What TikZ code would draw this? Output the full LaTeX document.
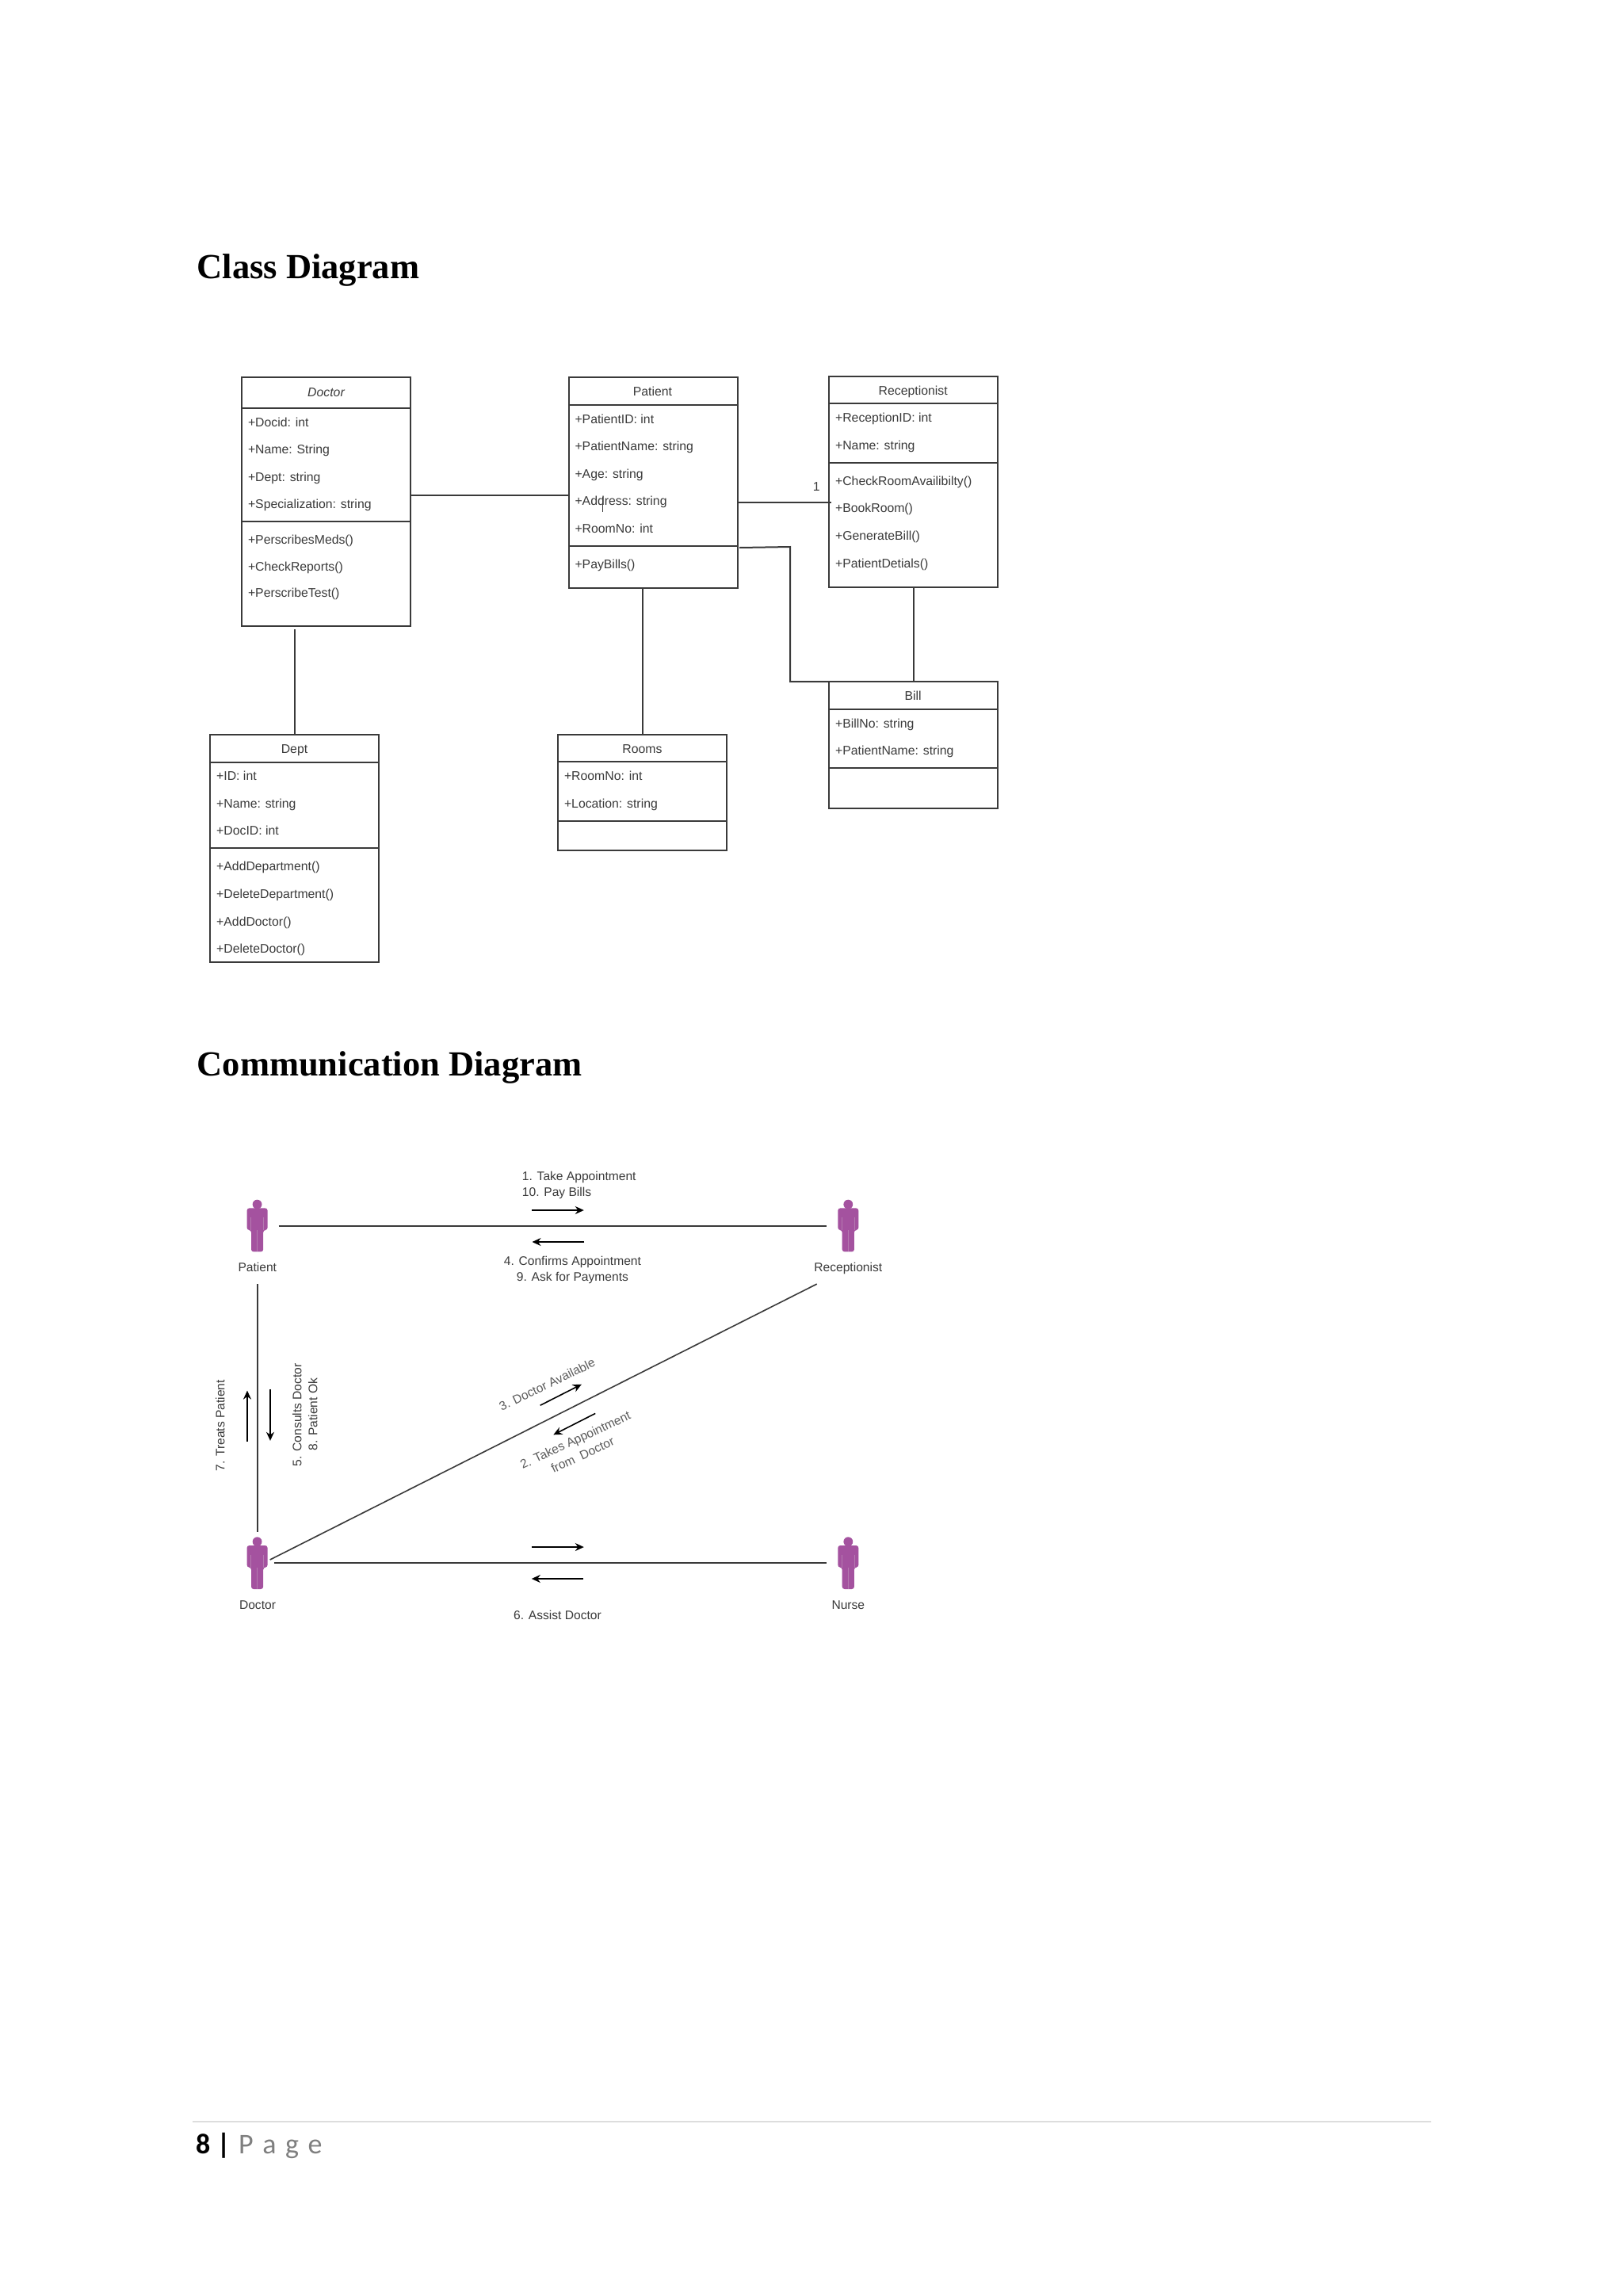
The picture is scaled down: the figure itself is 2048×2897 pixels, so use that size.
\documentclass[tikz,border=0pt]{standalone}
\usepackage{fontspec}
\setmainfont{Liberation Sans}
\newfontfamily\headfont{Liberation Serif}
\newfontfamily\footfont{Carlito}
\usetikzlibrary{arrows.meta}
\definecolor{ink}{HTML}{3A3A3A}
\definecolor{txt}{HTML}{3A3A3A}
\definecolor{dim}{HTML}{5C5C5C}
\definecolor{actorfill}{HTML}{A4529F}
\definecolor{actorlight}{HTML}{B47AB0}
\definecolor{pagegray}{HTML}{7F7F7F}
\definecolor{rulegray}{HTML}{DDDDDD}
\tikzset{
  classbox/.style={draw=ink,line width=2pt,fill=white,anchor=north west,inner sep=0pt,outer sep=0pt},
  sepline/.style={draw=ink,line width=2pt},
  assoc/.style={draw=ink,line width=2pt},
  msgline/.style={draw=ink,line width=2pt},
  thinline/.style={draw=ink,line width=1.6pt},
  flow/.style={draw=black,line width=1.6pt,-{Stealth[length=11pt,width=10pt]}},
  lab/.style={inner sep=0pt,text height=11.3pt,text depth=0pt,text=txt,font=\fontsize{15.8}{18}\selectfont},
  attr/.style={lab,anchor=west},
  title/.style={lab,anchor=center},
  msg/.style={lab,font=\fontsize{15.6}{18}\selectfont},
  slant/.style={msg,text=dim,anchor=center},
  heading/.style={inner sep=0pt,anchor=base west,font=\headfont\bfseries\fontsize{44.5}{50}\selectfont},
  pics/umlactor/.style={code={
    \fill[actorfill] (0,5.6) circle (5.9pt);
    \fill[actorfill,rounded corners=3pt] (-13,10.4) -- (13,10.4) -- (13,38) -- (7.6,38) -- (7.6,65.4) -- (-7.6,65.4) -- (-7.6,38) -- (-13,38) -- cycle;
    \draw[actorlight,line width=.6pt] (-8,22) -- (-8,38) (8,22) -- (8,38) (0,38) -- (0,65);
  }}
}
\begin{document}
\begin{tikzpicture}[x=1pt,y=-1pt]
\useasboundingbox (0,0) rectangle (2048,2897);
\fill[white] (0,0) rectangle (2048,2897);

\node[heading] (h1) at (248.5,351.7) {Class Diagram};
\node[heading] (h2) at (248.5,1357.7) {Communication Diagram};

% ---- class boxes
\node[classbox,minimum width=213pt,minimum height=314pt] (doctor) at (305,476) {};
\draw[sepline] (doctor.west |- 0,515) -- (doctor.east |- 0,515);
\draw[sepline] (doctor.west |- 0,658) -- (doctor.east |- 0,658);
\node[title,font=\itshape\fontsize{15.8}{18}\selectfont] (dt) at (411.5,494.5) {Doctor};
\node[attr] (d1) at (312.8,532.8) {+Docid: int};
\node[attr] (d2) at (312.8,567.3) {+Name: String};
\node[attr] (d3) at (312.8,601.8) {+Dept: string};
\node[attr] (d4) at (312.8,636.3) {+Specialization: string};
\node[attr] (d5) at (312.8,681) {+PerscribesMeds()};
\node[attr] (d6) at (312.8,714.6) {+CheckReports()};
\node[attr] (d7) at (312.8,748) {+PerscribeTest()};

\node[classbox,minimum width=213pt,minimum height=266pt] (patient) at (717.5,476) {};
\draw[sepline] (patient.west |- 0,511) -- (patient.east |- 0,511);
\draw[sepline] (patient.west |- 0,689) -- (patient.east |- 0,689);
\node[title] (pt) at (823.5,494) {Patient};
\node[attr] (p1) at (725.3,528.6) {+PatientID: int};
\node[attr] (p2) at (725.3,563.3) {+PatientName: string};
\node[attr] (p3) at (725.3,598) {+Age: string};
\node[attr] (p4) at (725.3,632.3) {+Address: string};
\node[attr] (p5) at (725.3,666.6) {+RoomNo: int};
\node[attr] (p6) at (725.3,712.2) {+PayBills()};
\coordinate (cursorA) at (760.5,627.3);
\coordinate (cursorB) at (760.5,645.7);
\draw[ink,line width=1pt] (cursorA) -- (cursorB);

\node[classbox,minimum width=213pt,minimum height=266pt] (recept) at (1046,475) {};
\draw[sepline] (recept.west |- 0,509) -- (recept.east |- 0,509);
\draw[sepline] (recept.west |- 0,584) -- (recept.east |- 0,584);
\node[title] (rt) at (1152.2,492.7) {Receptionist};
\node[attr] (r1) at (1053.9,527) {+ReceptionID: int};
\node[attr] (r2) at (1053.9,561.6) {+Name: string};
\node[attr] (r3) at (1053.9,607) {+CheckRoomAvailibilty()};
\node[attr] (r4) at (1053.9,641.3) {+BookRoom()};
\node[attr] (r5) at (1053.9,676) {+GenerateBill()};
\node[attr] (r6) at (1053.9,710.6) {+PatientDetials()};

\node[classbox,minimum width=213pt,minimum height=287pt] (dept) at (265,927) {};
\draw[sepline] (dept.west |- 0,962) -- (dept.east |- 0,962);
\draw[sepline] (dept.west |- 0,1070) -- (dept.east |- 0,1070);
\node[title] (dpt) at (371.5,944.7) {Dept};
\node[attr] (t1) at (273,979) {+ID: int};
\node[attr] (t2) at (273,1013.6) {+Name: string};
\node[attr] (t3) at (273,1048.3) {+DocID: int};
\node[attr] (t4) at (273,1093.2) {+AddDepartment()};
\node[attr] (t5) at (273,1127.9) {+DeleteDepartment()};
\node[attr] (t6) at (273,1162.6) {+AddDoctor()};
\node[attr] (t7) at (273,1197.2) {+DeleteDoctor()};

\node[classbox,minimum width=213pt,minimum height=146pt] (rooms) at (704,927) {};
\draw[sepline] (rooms.west |- 0,961) -- (rooms.east |- 0,961);
\draw[sepline] (rooms.west |- 0,1036) -- (rooms.east |- 0,1036);
\node[title] (rmt) at (810.4,944.5) {Rooms};
\node[attr] (m1) at (711.8,979) {+RoomNo: int};
\node[attr] (m2) at (711.8,1013.5) {+Location: string};

\node[classbox,minimum width=213pt,minimum height=160pt] (bill) at (1046,860) {};
\draw[sepline] (bill.west |- 0,895) -- (bill.east |- 0,895);
\draw[sepline] (bill.west |- 0,969) -- (bill.east |- 0,969);
\node[title] (bt) at (1152.2,878) {Bill};
\node[attr] (b1) at (1053.9,912.7) {+BillNo: string};
\node[attr] (b2) at (1053.9,947.3) {+PatientName: string};

% ---- class connectors
\draw[assoc] (doctor.east |- 0,625) -- (patient.west |- 0,625);
\coordinate (deptEnd) at (372,794);
\draw[assoc] (deptEnd) -- (deptEnd |- dept.north);
\coordinate (roomsTop) at (811,927);
\draw[assoc] (roomsTop |- patient.south) -- (roomsTop);
\coordinate (receptEnd) at (1049.4,634);
\draw[assoc] (patient.east |- receptEnd) -- (receptEnd);
\node[lab,anchor=center] (one) at (1030.2,613.9) {1};
\coordinate (billStart) at (933,691);
\coordinate (billBend) at (997,690);
\draw[assoc] (billStart) -- (billBend) -- (billBend |- bill.north) -- (bill.north west);
\draw[assoc] (recept.south) -- (bill.north);

% ---- communication actors
\pic (aPatient) at (324.6,1514) {umlactor};
\pic (aRecept) at (1070.3,1514) {umlactor};
\pic (aDoctor) at (324.6,1939.6) {umlactor};
\pic (aNurse) at (1070.3,1939.6) {umlactor};
\node[msg,anchor=center] (lPatient) at (324.8,1599) {Patient};
\node[msg,anchor=center] (lRecept) at (1070.3,1599) {Receptionist};
\node[msg,anchor=center] (lDoctor) at (325,2024.6) {Doctor};
\node[msg,anchor=center] (lNurse) at (1070.3,2024.6) {Nurse};

% ---- communication links
\coordinate (pR) at (351.6,1547);
\coordinate (rL) at (1043.3,1547);
\coordinate (dR) at (345.9,1972);
\coordinate (nL) at (1043.3,1972);
\coordinate (pB) at (325,1620);
\coordinate (dT) at (325,1932.5);
\coordinate (rD) at (1030.7,1620.1);
\coordinate (dD) at (340.7,1968);
\draw[msgline] (pR) -- (rL);
\draw[msgline] (dR) -- (nL);
\draw[thinline] (pB) -- (dT);
\draw[thinline] (rD) -- (dD);

% ---- message arrows
\coordinate (f1a) at (670.8,1527); \coordinate (f1b) at (736.8,1527);
\coordinate (f2a) at (737.4,1567); \coordinate (f2b) at (671.5,1567);
\coordinate (f3a) at (670.8,1952); \coordinate (f3b) at (736.8,1952);
\coordinate (f4a) at (736.2,1992); \coordinate (f4b) at (670.8,1992);
\coordinate (f5a) at (312,1819); \coordinate (f5b) at (312,1754.6);
\coordinate (f6a) at (341,1752.6); \coordinate (f6b) at (341,1817.8);
\coordinate (f7a) at (681.7,1773.2); \coordinate (f7b) at (733.9,1746.7);
\coordinate (f8a) at (751.2,1783.4); \coordinate (f8b) at (698.3,1810.3);
\foreach \s/\e in {f1a/f1b,f2a/f2b,f3a/f3b,f4a/f4b,f5a/f5b,f6a/f6b,f7a/f7b,f8a/f8b}
  \draw[flow] (\s) -- (\e);

% ---- message labels
\node[msg,anchor=west] (m1t) at (658.7,1483.7) {1. Take Appointment};
\node[msg,anchor=west] (m10t) at (658.7,1503.5) {10. Pay Bills};
\node[msg,anchor=center] (m4t) at (722.4,1591.3) {4. Confirms Appointment};
\node[msg,anchor=center] (m9t) at (722.4,1611) {9. Ask for Payments};
\node[msg,anchor=center] (m6t) at (703.5,2038) {6. Assist Doctor};
\node[msg,anchor=center,rotate=90] (m7t) at (277.6,1798.9) {7. Treats Patient};
\node[msg,anchor=center,rotate=90] (m5t) at (374.6,1785.2) {5. Consults Doctor};
\node[msg,anchor=center,rotate=90] (m8t) at (394.7,1784.8) {8. Patient Ok};
\node[slant,rotate=25.7] (m3t) at (690.3,1746.7) {3. Doctor Available};
\node[slant,rotate=25] (m2t) at (725.9,1816.7) {2. Takes Appointment};
\node[slant,rotate=25] (m2u) at (735,1835.6) {from\ \ Doctor};

% ---- footer
\coordinate (footL) at (242.7,2677);
\coordinate (footR) at (1805.6,2677);
\draw[rulegray,line width=2pt] (footL) -- (footR);
\node[inner sep=0pt,anchor=base west,font=\footfont\bfseries\fontsize{36}{40}\selectfont] (pg) at (247,2717.3) {8 |};
\node[inner sep=0pt,anchor=base west,font=\footfont\fontsize{36}{40}\selectfont,text=pagegray] (pw) at (301,2717.3) {\spaceskip=11.5pt P a g e};
\end{tikzpicture}
\end{document}
